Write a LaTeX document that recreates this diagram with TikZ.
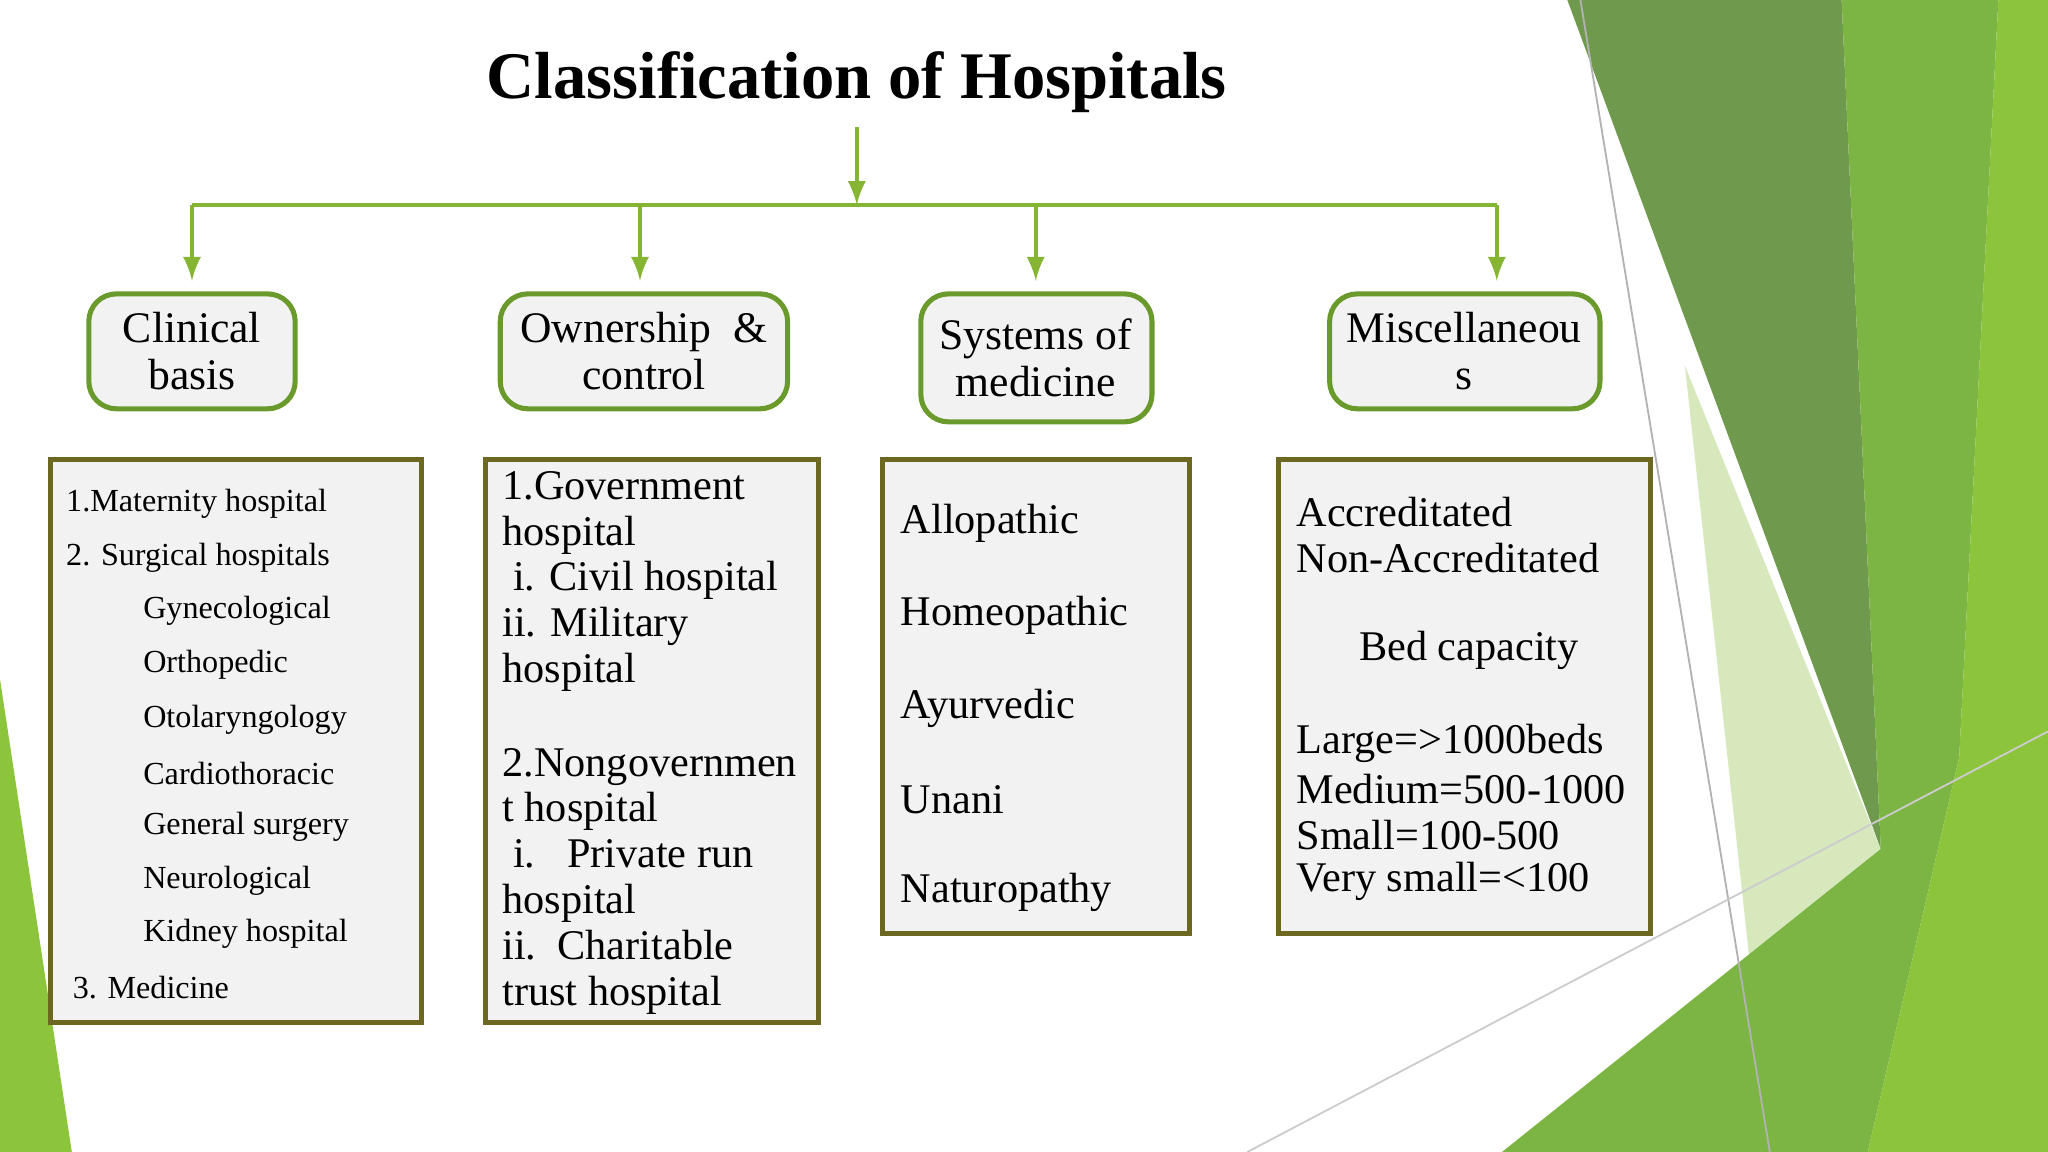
\documentclass[tikz,border=0pt]{standalone}
\usepackage{fontspec}
\setmainfont{Liberation Serif}
\begin{document}
\begin{tikzpicture}[x=0.01cm,y=-0.01cm,
 hdr/.style={draw=hdc,line width=1.1pt,rounded corners=6pt,fill=gray!10},
 htxt/.style={align=center,font=\fontsize{9.5}{10.2}\selectfont},
 cbox/.style={draw=olive!70!black,line width=1.1pt,fill=gray!10},
 arr/.style={draw=lnc,line width=0.8pt,-latex},
 ln/.style={draw=lnc,line width=0.8pt}]
\definecolor{lnc}{HTML}{86B534}\definecolor{hdc}{HTML}{6A9A2C}
\useasboundingbox (0,0) rectangle (1568,882);
\definecolor{dg}{HTML}{6F9A4E}\definecolor{mg}{HTML}{7DB544}\definecolor{bg}{HTML}{8CC43C}\definecolor{lg}{HTML}{D6E8BC}
\fill[lg] (1290,280) -- (1440,650) -- (1340,740) -- cycle;
\fill[dg] (1200,0) -- (1410,0) -- (1440,650) -- cycle;
\fill[mg] (1410,0) -- (1530,0) -- (1500,580) -- (1430,882) -- (1150,882) -- (1440,650) -- cycle;
\fill[bg] (1530,0) -- (1568,0) -- (1568,882) -- (1430,882) -- (1500,580) -- cycle;
\fill[bg] (0,520) -- (55,882) -- (0,882) -- cycle;
\draw[gray!60,line width=0.4pt] (1210,0) -- (1355,882);
\draw[gray!40,line width=0.4pt] (955,882) -- (1568,560);
\node[font=\fontsize{14.5}{15}\selectfont\bfseries] (t) at (656,63) {Classification of Hospitals};
\coordinate (a0) at (656,97); \coordinate (j) at (656,157);
\coordinate (l) at (147,157); \coordinate (r) at (1146,157);
\draw[arr] (a0) -- (j);
\draw[ln] (l) -- (r);
\draw[hdr] (68,225) rectangle (226,313); \node[htxt] (h1) at (147,269) {Clinical\\basis};
\draw[hdr] (383,225) rectangle (603,313); \node[htxt] (h2) at (493,269) {Ownership\ \ \&\\control};
\draw[hdr] (705,225) rectangle (882,323); \node[htxt] (h3) at (793,274) {Systems of\\medicine};
\draw[hdr] (1018,225) rectangle (1225,313); \node[htxt] (h4) at (1121,269) {Miscellaneou\\s};
\coordinate (e1) at (147,215); \coordinate (e2) at (490,215); \coordinate (e3) at (793,215); \coordinate (e4) at (1146,215);
\coordinate (s2) at (490,157); \coordinate (s3) at (793,157);
\draw[arr] (l) -- (e1); \draw[arr] (s2) -- (e2); \draw[arr] (s3) -- (e3); \draw[arr] (r) -- (e4);
\draw[cbox] (39,352) rectangle (323,783);
\draw[cbox] (372,352) rectangle (627,783);
\draw[cbox] (676,352) rectangle (911,715);
\draw[cbox] (979,352) rectangle (1264,715);
\begin{scope}[every node/.style={anchor=west,font=\fontsize{7}{8}\selectfont,inner sep=0pt}]
\node (c1) at (50,386) {1.Maternity hospital};
\node (c2) at (50,427) {2. Surgical hospitals};
\node (c3) at (109,468) {Gynecological};
\node (c4) at (109,509) {Orthopedic};
\node (c5) at (109,551) {Otolaryngology};
\node (c6) at (109,592) {Cardiothoracic};
\node (c7) at (109,633) {General surgery};
\node (c8) at (109,674) {Neurological};
\node (c9) at (109,715) {Kidney hospital};
\node (c10) at (55,756) {3. Medicine};
\end{scope}
\begin{scope}[every node/.style={anchor=north west,align=left,font=\fontsize{9.2}{10}\selectfont,inner sep=0pt}]
\node (o1) at (384,360) {1.Government\\hospital\\\ i. Civil hospital\\ii. Military\\hospital};
\node (o2) at (384,572) {2.Nongovernmen\\t hospital\\\ i.\ \ \ Private run\\hospital\\ii.\ \ Charitable\\trust hospital};
\end{scope}
\begin{scope}[every node/.style={anchor=west,font=\fontsize{9.2}{10}\selectfont,inner sep=0pt}]
\node (m1) at (689,401) {Allopathic};
\node (m2) at (689,471) {Homeopathic};
\node (m3) at (689,542) {Ayurvedic};
\node (m4) at (689,612) {Unani};
\node (m5) at (689,683) {Naturopathy};
\node (x1) at (992,392) {Accreditated};
\node (x2) at (992,427) {Non-Accreditated};
\node (x3) at (1040,498) {Bed capacity};
\node (x4) at (992,569) {Large=>1000beds};
\node (x5) at (992,604) {Medium=500-1000};
\node (x6) at (992,639) {Small=100-500};
\node (x7) at (992,675) {Very small=<100};
\end{scope}
\end{tikzpicture}
\end{document}
